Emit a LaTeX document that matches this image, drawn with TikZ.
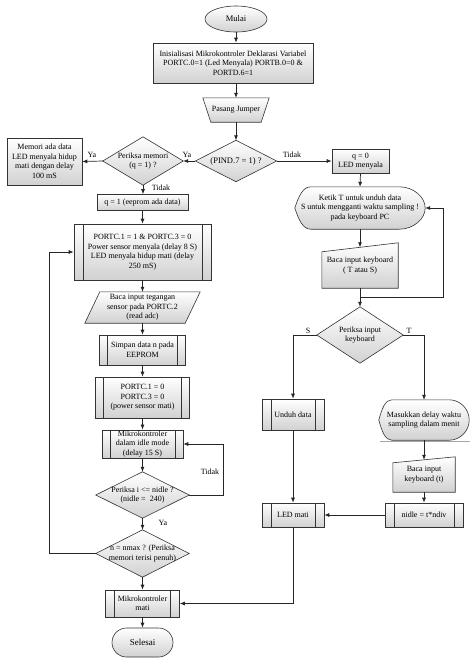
\documentclass[tikz,border=0pt]{standalone}
\usepackage{fontspec}
\setmainfont{Liberation Serif}
\usetikzlibrary{shapes.geometric,shapes.misc,arrows.meta,backgrounds}
\newcommand\fs{\fontsize{8}{9.5}\selectfont}
\newcommand\flowdiamond[1]{\path[outline] (#1.north) -- (#1.east) -- (#1.south) -- (#1.west) -- cycle;}
\newcommand\flowmanual[2]{\path[outline] (#1.south west) -- (#1.south east) -- (#1.north east) -- ([yshift=-#2]#1.north west) -- cycle;}
\newcommand\flowdisplay[3]{\path[outline] (#1.west) .. controls ([xshift=#2*0.25,yshift=12]#1.west) and ([xshift=#2*0.5]#1.north west) .. ([xshift=#2]#1.north west) -- ([xshift=-#3]#1.north east) .. controls ([xshift=-#3*0.45]#1.north east) and ([yshift=11]#1.east) .. (#1.east) .. controls ([yshift=-11]#1.east) and ([xshift=-#3*0.45]#1.south east) .. ([xshift=-#3]#1.south east) -- ([xshift=#2]#1.south west) .. controls ([xshift=#2*0.5]#1.south west) and ([xshift=#2*0.25,yshift=-12]#1.west) .. (#1.west) -- cycle;}
\begin{document}
\begin{tikzpicture}[x=1pt,y=-1pt,
  line/.style={draw=black!85, line width=0.7pt},
  arr/.style={line, -{Latex[length=5pt,width=4pt]}},
  fillshade/.style={top color=white, bottom color=black!18},
  outline/.style={draw=black!80, line width=0.6pt, fillshade},
  box/.style={rectangle, outline, align=center, font=\fs, inner sep=1pt},
  pp/.style={box, path picture={\draw[black!80, line width=0.6pt]
     ([xshift=#1]path picture bounding box.north west) -- ([xshift=#1]path picture bounding box.south west)
     ([xshift=-#1]path picture bounding box.north east) -- ([xshift=-#1]path picture bounding box.south east);}},
  pp/.default=8,
  ghost/.style={rectangle, align=center, font=\fs, inner sep=0pt},
  lab/.style={font=\fontsize{8}{9}\selectfont, inner sep=0pt},
]
\useasboundingbox (0,0) rectangle (474,672);

% left / main column
\node[ellipse, outline, minimum width=62, minimum height=26, inner sep=0pt, font=\fontsize{8.5}{10}\selectfont] (mulai) at (236,19) {Mulai};
\node[box, minimum width=160, minimum height=40] (init) at (233,63) {Inisialisasi Mikrokontroler Deklarasi Variabel\\PORTC.0=1 (Led Menyala) PORTB.0=0 \&\\PORTD.6=1};
\node[ghost, minimum width=66, minimum height=24] (jump) at (236,110) {Pasang Jumper};
\node[ghost, minimum width=81, minimum height=41, font=\fontsize{8.5}{10}\selectfont] (pind) at (236,161) {(PIND.7 = 1) ?};
\node[ghost, minimum width=80, minimum height=48] (cekm) at (143,161) {Periksa memori\\(q = 1) ?};
\node[box, minimum width=75, minimum height=47] (mem) at (44.5,161.5) {Memori ada data\\LED menyala hidup\\mati dengan delay\\100 mS};
\node[box, minimum width=91, minimum height=16] (q1) at (142.5,202.5) {q = 1 (eeprom ada data)};
\node[pp=9, minimum width=137, minimum height=56] (pc1) at (142.5,252) {PORTC.1 = 1 \& PORTC.3 = 0\\Power sensor menyala (delay 8 S)\\LED menyala hidup mati (delay\\250 mS)};
\node[ghost, minimum width=115, minimum height=31] (baca) at (142.5,307.5) {Baca input tegangan\\sensor pada PORTC.2\\(read adc)};
\node[pp, minimum width=86, minimum height=30] (simpan) at (142.5,350) {Simpan data n pada\\EEPROM};
\node[pp, minimum width=94, minimum height=41] (pc0) at (142.5,397.5) {PORTC.1 = 0\\PORTC.3 = 0\\(power sensor mati)};
\node[pp, minimum width=81, minimum height=28] (idle) at (142.5,444) {Mikrokontroler\\dalam idle mode\\(delay 15 S)};
\node[ghost, minimum width=93, minimum height=46] (cekn) at (142.5,495) {Periksa i <= nidle ?\\(nidle =\ \ 240)};
\node[ghost, minimum width=93, minimum height=47] (nmax) at (142.5,553.5) {n = nmax ? (Periksa\\memori terisi penuh)};
\node[pp=9, minimum width=74, minimum height=27] (mm) at (142.5,603.5) {Mikrokontroler\\mati};
\node[rounded rectangle, outline, minimum width=61, minimum height=29, inner sep=0pt, font=\fontsize{9}{10}\selectfont] (selesai) at (142.5,642.5) {Selesai};

% right column
\node[box, minimum width=57, minimum height=24] (q0) at (360.5,161) {q = 0\\LED menyala};
\node[ghost, minimum width=130, minimum height=42] (ketik) at (360,208) {Ketik T untuk unduh data\\S untuk mengganti waktu sampling !\\pada keyboard PC};
\node[ghost, minimum width=76, minimum height=45] (bk) at (360,265.5) {Baca input keyboard\\( T atau S)};
\node[ghost, minimum width=86, minimum height=56] (cekk) at (360,335) {Periksa input\\keyboard};
\node[pp=9, minimum width=62, minimum height=31] (unduh) at (293,414.5) {Unduh data};
\node[ghost, minimum width=90, minimum height=40] (masuk) at (424,420) {Masukkan delay waktu\\sampling dalam menit};
\node[ghost, minimum width=62, minimum height=35] (bt) at (424,474.5) {Baca input\\keyboard (t)};
\node[pp=9, minimum width=78, minimum height=24] (nidle) at (424,515) {nidle = t*ndiv};
\node[pp=9, minimum width=62, minimum height=24] (led) at (293,515) {LED mati};
\coordinate (j1) at (360,297);

% shapes behind the texts
\begin{scope}[on background layer]
  \path[outline] (jump.north west) -- (jump.north east) -- ([xshift=-8]jump.south east) -- ([xshift=8]jump.south west) -- cycle;
  \flowdiamond{pind}
  \flowdiamond{cekm}
  \path[outline] ([xshift=15]baca.north west) -- (baca.north east) -- ([xshift=-15]baca.south east) -- (baca.south west) -- cycle;
  \flowdiamond{cekn}
  \flowdiamond{nmax}
  \flowdisplay{ketik}{16}{26}
  \flowmanual{bk}{9}
  \flowdiamond{cekk}
  \flowdisplay{masuk}{13}{20}
  \flowmanual{bt}{6}
\end{scope}
\draw[black!35, line width=0.5pt] ([xshift=1,yshift=-1]masuk.south west) -- ([xshift=1,yshift=-1]masuk.south east);

% connectors, main column
\draw[arr] (mulai.south) -- (mulai.south |- init.north);
\draw[arr] (jump.north |- init.south) -- (jump.north);
\draw[arr] (jump.south) -- (pind.north);
\draw[arr] (pind.east) -- (q0.west);
\draw[arr] (pind.west) -- (cekm.east);
\draw[arr] (cekm.west) -- (mem.east);
\draw[arr] (cekm.south) -- (cekm.south |- q1.north);
\draw[arr] (q1.south) -- (pc1.north);
\draw[arr] (pc1.south) -- (baca.north);
\draw[arr] (baca.south) -- (simpan.north);
\draw[arr] (simpan.south) -- (pc0.north);
\draw[arr] (pc0.south) -- (idle.north);
\draw[arr] (idle.south) -- (cekn.north);
\draw[arr] (cekn.south) -- (nmax.north);
\draw[arr] (nmax.south) -- (mm.north);
\draw[arr] (mm.south) -- (selesai.north);
\draw[arr] (cekn.east) -- ++(34,0) |- (idle.east);
\draw[arr] (nmax.west) -- ++(-46.5,0) |- (pc1.west);

% connectors, right column
\draw[arr] (q0.south) -- (ketik.north);
\draw[arr] (ketik.south) -- ([yshift=-4.5]bk.north);
\draw[arr] (bk.south) -- (cekk.north);
\draw[arr] (j1) -- ++(83,0) |- (ketik.east);
\draw[arr] (cekk.west) -| (unduh.north);
\draw[arr] (cekk.east) -| (masuk.north);
\draw[arr] (masuk.south) -- ([yshift=-3]bt.north);
\draw[arr] (bt.south) -- (nidle.north);
\draw[arr] (nidle.west) -- (led.east);
\draw[arr] (unduh.south) -- (led.north);
\draw[arr] (led.south) |- (mm.east);

% labels
\node[lab] (l1) at (292,155) {Tidak};
\node[lab] (l2) at (187,155) {Ya};
\node[lab] (l3) at (92,155) {Ya};
\node[lab] (l4) at (161,188) {Tidak};
\node[lab] (l5) at (210,472) {Tidak};
\node[lab] (l6) at (163,523) {Ya};
\node[lab] (l7) at (308,331) {S};
\node[lab] (l8) at (409,331) {T};
\end{tikzpicture}
\end{document}
